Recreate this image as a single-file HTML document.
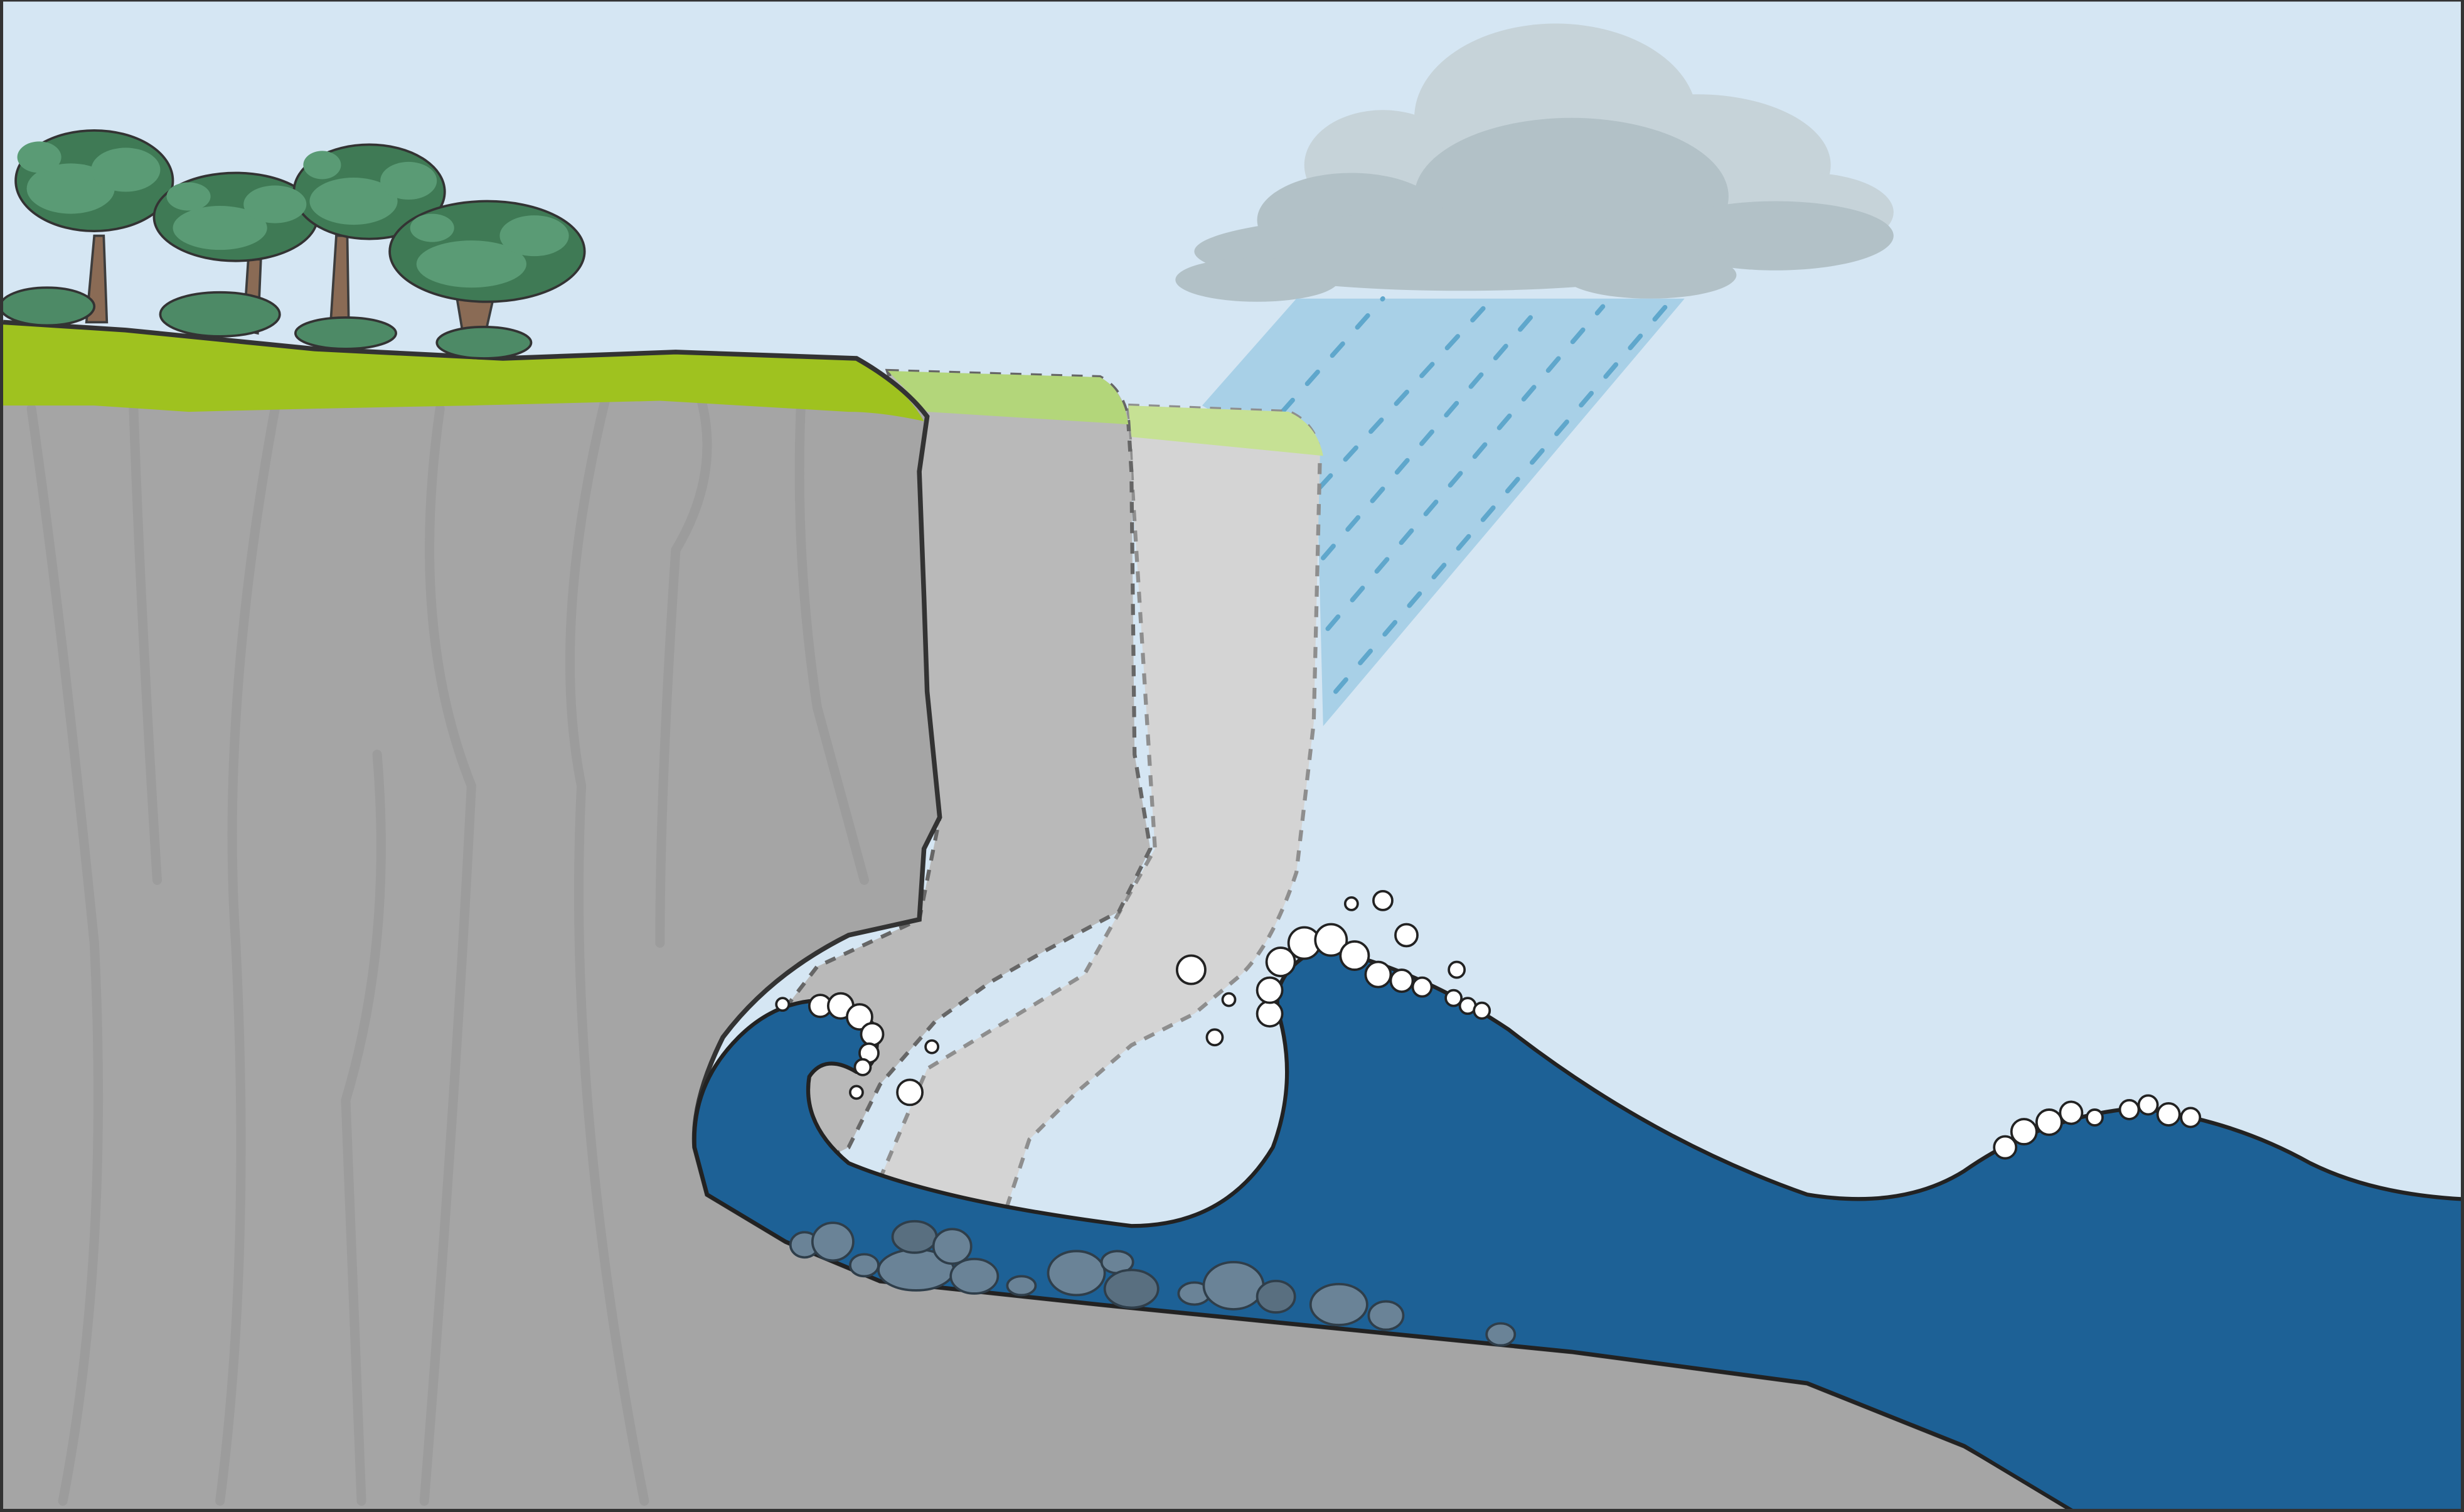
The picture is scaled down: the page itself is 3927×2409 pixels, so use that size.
<!DOCTYPE html>
<html><head><meta charset="utf-8"><style>
html,body{margin:0;padding:0;background:#d5e6f3;}
svg{display:block;}
</style></head><body>
<svg width="3927" height="2409" viewBox="0 0 1568 962" preserveAspectRatio="none" xmlns="http://www.w3.org/2000/svg">
<rect x="0" y="0" width="1568" height="962" fill="#d5e6f3"/>
<g fill="#c6d3d9">
<ellipse cx="990" cy="75" rx="90" ry="60"/>
<ellipse cx="1080" cy="105" rx="85" ry="45"/>
<ellipse cx="880" cy="105" rx="50" ry="35"/>
<ellipse cx="1150" cy="135" rx="55" ry="25"/>
</g>
<g fill="#b2c1c7">
<ellipse cx="1000" cy="125" rx="100" ry="50"/>
<ellipse cx="860" cy="140" rx="60" ry="30"/>
<ellipse cx="1130" cy="150" rx="75" ry="22"/>
<ellipse cx="930" cy="160" rx="170" ry="25"/>
<ellipse cx="1050" cy="175" rx="55" ry="15"/>
<ellipse cx="800" cy="178" rx="52" ry="14"/>
</g>
<polygon points="765,258 825,190 1072,190 842,462 838,300" fill="#9ccbe3" opacity="0.8"/>
<g stroke="#5fa7cc" stroke-width="3" stroke-dasharray="10,14" stroke-linecap="round">
<line x1="850" y1="440" x2="1060" y2="195"/>
<line x1="845" y1="400" x2="1020" y2="195"/>
<line x1="842" y1="355" x2="980" y2="195"/>
<line x1="840" y1="310" x2="945" y2="195"/>
<line x1="800" y1="280" x2="880" y2="190"/>
</g>
<path d="M718,258 L820,262 Q838,270 840,290 L836,460 L825,555 Q810,600 790,620 L760,645 L720,665 L685,695 L655,725 L640,770 L560,750 L590,680 L640,650 L690,620 L735,540 L720,300 Z" fill="#d4d4d4" stroke="#8e8e8e" stroke-width="2.5" stroke-dasharray="7,6"/>
<path d="M718,258 L820,262 Q838,270 842,290 L720,278 Z" fill="#c6e194"/>
<path d="M565,236 L700,240 Q715,248 718,268 L720,300 L722,480 L732,540 L712,580 L665,605 L630,625 L595,650 L560,690 L540,730 L520,740 L470,680 L520,615 L585,585 L598,520 L590,440 L585,300 Z" fill="#b9b9b9" stroke="#666" stroke-width="2.5" stroke-dasharray="7,6"/>
<path d="M565,236 L700,240 Q715,248 718,270 L590,262 Z" fill="#b3d67a"/>
<path d="M2,205 L80,210 L200,222 L320,228 L430,224 L545,228 Q575,245 590,265 L585,300 L588,380 L590,440 L598,520 L588,540 L585,585 L540,595 Q490,620 460,660 Q440,700 442,730 L450,760 L500,790 L560,815 L700,830 L850,845 L1000,860 L1150,880 L1250,920 L1320,960 L0,962 Z" fill="#a5a5a5"/>
<g stroke="#9c9c9c" stroke-width="6" fill="none" stroke-linecap="round">
<path d="M20,260 Q40,400 60,600 Q70,800 40,955"/>
<path d="M85,260 Q90,400 100,560"/>
<path d="M175,260 Q140,450 150,600 Q160,800 140,955"/>
<path d="M280,260 Q260,400 300,500 Q290,700 270,955"/>
<path d="M385,255 Q350,400 370,500 Q360,700 410,955"/>
<path d="M445,250 Q460,300 430,350 Q420,500 420,600"/>
<path d="M510,250 Q505,350 520,450 L550,560"/>
<path d="M240,480 Q250,600 220,700 L230,955"/>
</g>
<path d="M2,205 L80,210 L200,222 L320,228 L430,224 L545,228 Q575,245 588,268 Q560,262 540,262 L420,255 L300,258 L200,260 L120,262 L60,258 L2,258 Z" fill="#9fc21f"/>
<path d="M2,205 L80,210 L200,222 L320,228 L430,224 L545,228 Q575,245 590,265 L585,300 L588,380 L590,440 L598,520 L588,540 L585,585 L540,595 Q490,620 460,660 Q440,700 442,730 L450,760 L500,790 L560,815 L700,830 L850,845 L1000,860 L1150,880 L1250,920 L1320,960" fill="none" stroke="#333" stroke-width="3"/>
<path d="M1568,763 L1568,962 L1320,962 L1250,920 L1150,880 L1000,860 L850,845 L700,830 L560,815 L500,790 L450,760 L442,730 Q440,690 470,660 Q490,640 515,637 Q545,635 558,655 Q560,680 545,682 Q525,670 515,685 Q510,715 540,740 Q600,765 720,780 Q780,780 810,730 Q825,690 815,650 Q805,620 840,603 Q900,615 960,655 Q1050,725 1150,760 Q1210,770 1250,745 Q1300,710 1360,705 Q1420,712 1470,740 Q1510,760 1568,763 Z" fill="#1d6196" stroke="#222" stroke-width="2.5"/>
<g fill="#6a8397" stroke="#2f3e4a" stroke-width="1.5">
<ellipse cx="512" cy="792" rx="9" ry="8"/>
<ellipse cx="530" cy="790" rx="13" ry="12"/>
<ellipse cx="550" cy="805" rx="9" ry="7"/>
<ellipse cx="583" cy="808" rx="24" ry="13"/>
<ellipse cx="582" cy="787" rx="14" ry="10" fill="#596f80"/>
<ellipse cx="606" cy="793" rx="12" ry="11"/>
<ellipse cx="620" cy="812" rx="15" ry="11"/>
<ellipse cx="650" cy="818" rx="9" ry="6"/>
<ellipse cx="685" cy="810" rx="18" ry="14"/>
<ellipse cx="711" cy="803" rx="10" ry="7"/>
<ellipse cx="720" cy="820" rx="17" ry="12" fill="#596f80"/>
<ellipse cx="760" cy="823" rx="10" ry="7"/>
<ellipse cx="785" cy="818" rx="19" ry="15"/>
<ellipse cx="812" cy="825" rx="12" ry="10" fill="#596f80"/>
<ellipse cx="852" cy="830" rx="18" ry="13"/>
<ellipse cx="882" cy="837" rx="11" ry="9"/>
<ellipse cx="955" cy="849" rx="9" ry="7"/>
</g>
<g fill="#fff" stroke="#222" stroke-width="1.5">
<circle cx="522" cy="640" r="7"/><circle cx="535" cy="640" r="8"/><circle cx="547" cy="647" r="8"/><circle cx="555" cy="658" r="7"/><circle cx="553" cy="670" r="6"/><circle cx="549" cy="679" r="5"/>
<circle cx="498" cy="639" r="4"/><circle cx="593" cy="666" r="4"/><circle cx="545" cy="695" r="4"/><circle cx="579" cy="695" r="8"/>
<circle cx="758" cy="617" r="9"/><circle cx="782" cy="636" r="4"/><circle cx="773" cy="660" r="5"/>
<circle cx="860" cy="575" r="4"/><circle cx="880" cy="573" r="6"/><circle cx="895" cy="595" r="7"/><circle cx="927" cy="617" r="5"/>
<circle cx="808" cy="645" r="8"/><circle cx="808" cy="630" r="8"/><circle cx="815" cy="612" r="9"/><circle cx="830" cy="600" r="10"/><circle cx="847" cy="598" r="10"/><circle cx="862" cy="608" r="9"/><circle cx="877" cy="620" r="8"/><circle cx="892" cy="624" r="7"/><circle cx="905" cy="628" r="6"/>
<circle cx="925" cy="635" r="5"/><circle cx="934" cy="640" r="5"/><circle cx="943" cy="643" r="5"/>
<circle cx="1276" cy="730" r="7"/><circle cx="1288" cy="720" r="8"/><circle cx="1304" cy="714" r="8"/><circle cx="1318" cy="708" r="7"/><circle cx="1333" cy="711" r="5"/>
<circle cx="1355" cy="706" r="6"/><circle cx="1367" cy="703" r="6"/><circle cx="1380" cy="709" r="7"/><circle cx="1394" cy="711" r="6"/>
</g>
<g stroke="#3d3d3d" stroke-width="1.5">
<path d="M55,205 L60,150 L66,150 L68,205 Z" fill="#8a6b55"/>
<path d="M155,210 L158,165 L166,165 L164,212 Z" fill="#8a6b55"/>
<path d="M210,212 L214,150 L221,150 L222,212 Z" fill="#8a6b55"/>
<path d="M295,215 L290,185 L315,185 L308,216 Z" fill="#8a6b55"/>
</g>
<g fill="#4d8a66" stroke="#333" stroke-width="1.5">
<ellipse cx="30" cy="195" rx="30" ry="12"/><ellipse cx="140" cy="200" rx="38" ry="14"/><ellipse cx="220" cy="212" rx="32" ry="10"/><ellipse cx="308" cy="218" rx="30" ry="10"/>
</g>
<g fill="#3f7a55" stroke="#333" stroke-width="1.5">
<ellipse cx="60" cy="115" rx="50" ry="32"/>
<ellipse cx="150" cy="138" rx="52" ry="28"/>
<ellipse cx="235" cy="122" rx="48" ry="30"/>
<ellipse cx="310" cy="160" rx="62" ry="32"/>
</g>
<g fill="#5a9b75">
<ellipse cx="45" cy="120" rx="28" ry="16"/><ellipse cx="80" cy="108" rx="22" ry="14"/>
<ellipse cx="140" cy="145" rx="30" ry="14"/><ellipse cx="175" cy="130" rx="20" ry="12"/>
<ellipse cx="225" cy="128" rx="28" ry="15"/><ellipse cx="260" cy="115" rx="18" ry="12"/>
<ellipse cx="300" cy="168" rx="35" ry="15"/><ellipse cx="340" cy="150" rx="22" ry="13"/>
<ellipse cx="25" cy="100" rx="14" ry="10"/><ellipse cx="120" cy="125" rx="14" ry="9"/><ellipse cx="205" cy="105" rx="12" ry="9"/><ellipse cx="275" cy="145" rx="14" ry="9"/>
</g>
<rect x="1" y="0" width="1566" height="961" fill="none" stroke="#333" stroke-width="2"/>
</svg>
</body></html>
